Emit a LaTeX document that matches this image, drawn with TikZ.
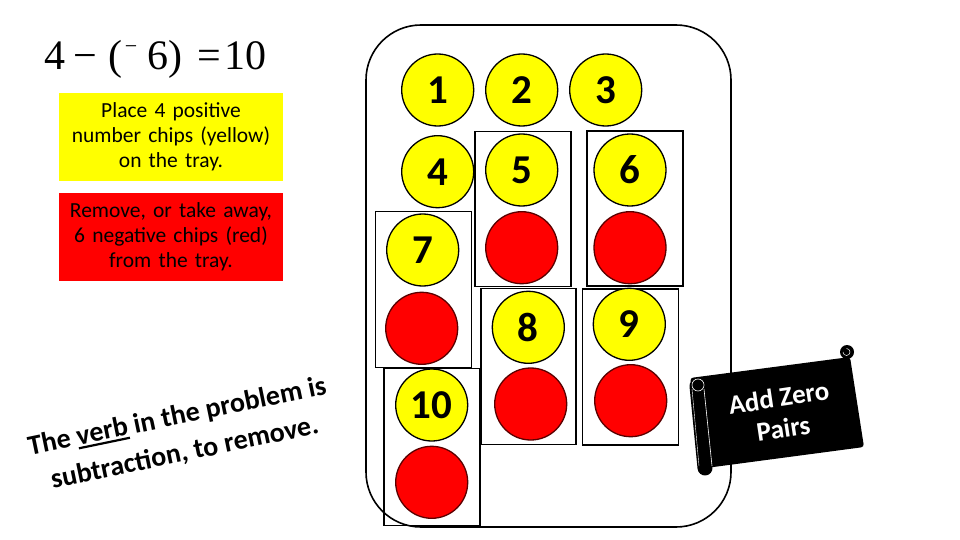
\documentclass[tikz,border=0pt]{standalone}
\usepackage{fontspec}
\setmainfont{Carlito}
\newfontfamily\timesf{Liberation Serif}
\definecolor{chipyellow}{RGB}{255,255,0}
\definecolor{chipred}{RGB}{255,0,0}
\definecolor{chipedge}{RGB}{90,0,0}
\newcommand{\thickul}[1]{{\setbox0\hbox{#1}\rlap{\rule[-4pt]{\wd0}{2.2pt}}\box0}}
\begin{document}
\begin{tikzpicture}[x=1pt,y=-1pt,
  ychip/.style={circle, draw=black, line width=1.3pt, fill=chipyellow, minimum size=72pt, inner sep=0pt, font=\fontsize{41}{41}\selectfont\bfseries},
  rchip/.style={circle, draw=chipedge, line width=1.3pt, fill=chipred, minimum size=72pt, inner sep=0pt},
  pairbox/.style={draw=black, line width=1.4pt, minimum width=96pt, minimum height=156pt, inner sep=0pt},
  infobox/.style={minimum width=224pt, minimum height=88pt, inner sep=0pt, align=center, text width=222pt, font=\fontsize{21.5}{25}\selectfont}
]
\useasboundingbox (0,0) rectangle (960,540);
\fill[white] (0,0) rectangle (960,540);

% equation
\node[anchor=base west, inner sep=0pt] (eq) at (44,70) {\timesf\fontsize{42}{42}\selectfont 4\kern8pt−\kern12pt(\kern2pt\raisebox{16pt}{\fontsize{22}{22}\selectfont −}\kern10pt6)\kern15pt=\kern4pt10};

% info boxes
\node[infobox, fill=chipyellow] (place) at (171,137) {Place 4 positive\\number chips (yellow)\\on the tray.};
\node[infobox, fill=chipred] (remove) at (171,236.5) {Remove, or take away,\\6 negative chips (red)\\from the tray.};

% tray
\node[draw=black, line width=1.6pt, rounded corners=55pt, minimum width=365pt, minimum height=502pt, inner sep=0pt] (tray) at (548.5,276) {};

% pair boxes
\node[pairbox, minimum width=96pt, minimum height=155pt] (b5) at (523,209.2) {};
\node[pairbox, minimum width=96pt, minimum height=155pt] (b6) at (635,208.5) {};
\node[pairbox] (b7) at (423.7,289.7) {};
\node[pairbox, minimum width=95pt] (b8) at (528.3,366.2) {};
\node[pairbox] (b9) at (630.2,367) {};
\node[pairbox, minimum height=157pt] (b10) at (431.8,446.7) {};

% chips
\node[ychip] (c1) at (437.7,90) {1};
\node[ychip] (c2) at (521.7,90) {2};
\node[ychip] (c3) at (605.7,90) {3};
\node[ychip] (c4) at (437.7,171.7) {4};
\node[ychip] (c5) at (521.7,170) {5};
\node[ychip] (c6) at (630,170) {6};
\node[rchip] (r5) at (521.7,247.7) {};
\node[rchip] (r6) at (630,247.7) {};
\node[ychip] (c7) at (422.7,250) {7};
\node[rchip] (r7) at (421.7,328.3) {};
\node[ychip] (c8) at (528.3,327.3) {8};
\node[rchip] (r8) at (530.7,404) {};
\node[ychip] (c9) at (629.3,324.3) {9};
\node[rchip] (r9) at (630.7,400.7) {};
\node[ychip] (c10) at (431.7,405) {10};
\node[rchip] (r10) at (431.7,482.3) {};

% scroll banner
\fill[black, rounded corners=3pt] (690,378) -- (850,357) -- (864,447) -- (706,468) -- cycle;
\draw[black, line width=15pt, line cap=round] (697,386) -- (705,468);
\fill[black] (847,352) circle (7);
\draw[white, line width=0.5pt] (843,352) arc (180:-90:3.5);
\draw[white, line width=0.6pt] (698,385) circle (6);
\draw[white, line width=0.6pt] (704,389) -- (712,466);
\draw[white, line width=0.4pt] (692,389) -- (699,466);
\node[white, font=\fontsize{27}{31}\selectfont\bfseries, rotate=8.5, align=center, inner sep=0pt] (banner) at (781,413) {Add Zero\\Pairs};

% rotated note
\node[font=\fontsize{28}{37}\selectfont\bfseries, rotate=11.7, align=center, inner sep=0pt] (note) at (181,435) {The \thickul{verb} in the problem is\\subtraction, to remove.};
\end{tikzpicture}
\end{document}
